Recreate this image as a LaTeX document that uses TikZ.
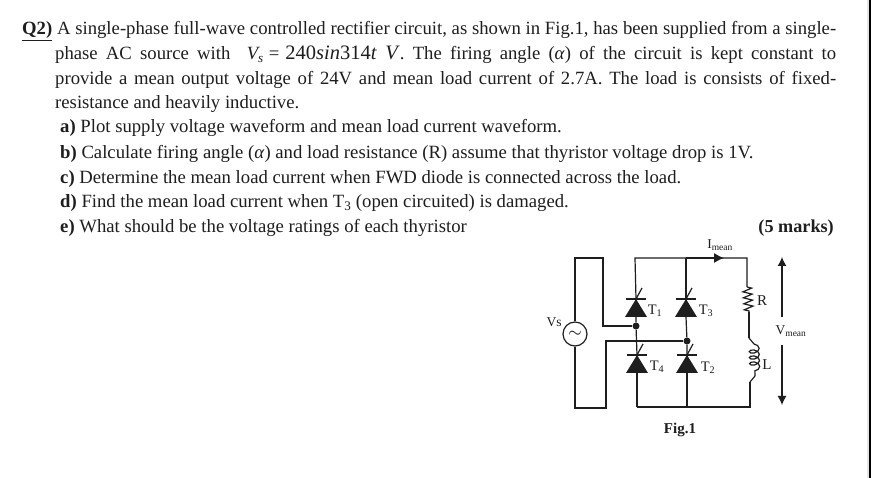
\documentclass[tikz,border=0pt]{standalone}
\definecolor{inkgray}{RGB}{30, 30, 30}
\usepackage{fontspec}
\setmainfont{Liberation Serif}
\usetikzlibrary{arrows.meta, calc, decorations.pathmorphing}

\begin{document}
\begin{tikzpicture}[
  x=1pt, y=-1pt,
  qline/.style={anchor=base west, inner sep=0pt, text=inkgray, font=\fontsize{18.7}{20}\selectfont},
  partbold/.style={qline, font=\fontsize{18.2}{20}\selectfont\bfseries},
  circlabel/.style={inner sep=0pt, text=inkgray, font=\fontsize{13.5}{14}\selectfont},
  thylabel/.style={circlabel, font=\fontsize{14.5}{15}\selectfont},
  wire/.style={draw=inkgray, line width=1.2pt},
  dotjoin/.style={circle, fill=inkgray, inner sep=0pt, minimum size=7pt}
]
  \useasboundingbox (0,0) rectangle (871,478);
  \fill[white] (0,0) rectangle (871,478);
  \fill[black!10] (867,0) rectangle (869,478);
  \fill[black] (869,0) rectangle (871,478);

  % Question text
  \node[qline] (line1) at (22,35) {\makebox[814pt][s]{\textbf{\underline{Q2)}} A single-phase full-wave controlled rectifier circuit, as shown in Fig.1, has been supplied from a single-}};
  \node[qline] (line2) at (55,60) {\makebox[781pt][s]{phase AC source with \ \textit{V\textsubscript{s}}\kern5pt=\kern6pt{\fontsize{20.5}{20}\selectfont 240\textit{sin}314\textit{t V}}. The firing angle (\textit{α}) of the circuit is kept constant to}};
  \node[qline] (line3) at (55,85) {\makebox[781pt][s]{provide a mean output voltage of 24V and mean load current of 2.7A. The load is consists of fixed-}};
  \node[qline] (line4) at (55,109) {resistance and heavily inductive.};

  % Parts
  \node[qline] (parta) at (60,133) {\textbf{a)} Plot supply voltage waveform and mean load current waveform.};
  \node[qline] (partb) at (60,159) {\textbf{b)} Calculate firing angle (\textit{α}) and load resistance (R) assume that thyristor voltage drop is 1V.};
  \node[qline] (partc) at (60,184) {\textbf{c)} Determine the mean load current when FWD diode is connected across the load.};
  \node[qline] (partd) at (60,208) {\textbf{d)} Find the mean load current when T\textsubscript{3} (open circuited) is damaged.};
  \node[qline] (parte) at (60,233) {\textbf{e)} What should be the voltage ratings of each thyristor};
  \node[partbold, anchor=base east] (marks) at (834,233) {(5 marks)};

  % Source and wire corners
  \node[circle, draw=inkgray, line width=1.2pt, minimum size=24pt, inner sep=0pt] (vs) at (575,334) {\fontsize{18}{18}\selectfont$\sim$};
  \coordinate (srctop) at (575,258);
  \coordinate (srcin) at (603,258);
  \coordinate (srcbot) at (575,408);
  \coordinate (retin) at (606,408);
  \coordinate (toprail) at (635,258);
  \coordinate (topmid) at (686,258);
  \coordinate (flow) at (724,258);
  \coordinate (topright) at (747,258);
  \coordinate (rtop) at (747,287);
  \coordinate (rbot) at (749,312);
  \coordinate (ltop) at (749,338);
  \coordinate (lbot) at (750,382);
  \coordinate (botright) at (750,407);
  \coordinate (botleft) at (637,407);
  \coordinate (botmid) at (687,407);
  \node[dotjoin] (joina) at (636,326) {};
  \node[dotjoin] (joinb) at (687,341) {};

  % Thyristors
  \foreach \thyname/\thyx/\thyy in {tone/636/299, tthree/686/299, tfour/637/355, ttwo/687/355} {
    \coordinate (\thyname k) at (\thyx,\thyy);
    \coordinate (\thyname a) at (\thyx,\thyy+18);
    \fill[inkgray] (\thyname k) -- ++(-11,18) -- ++(22,0) -- cycle;
    \draw[wire] ($(\thyname k)+(-10,0)$) -- ($(\thyname k)+(10,0)$);
    \draw[wire] (\thyname k) -- ++(6,-11);
  }

  % Wiring
  \draw[wire] (vs.north) -- (srctop) -- (srcin) |- (joina);
  \draw[wire] (vs.south) -- (srcbot) -- (retin) |- (joinb);
  \draw[wire] (tonek) -- (toprail) -- (topmid) -- (topright) -- (rtop);
  \draw[wire, -{Latex[length=10pt,width=10pt]}] (topmid) -- (flow);
  \draw[wire] (topmid) -- (tthreek);
  \draw[wire] (tonea) -- (joina) -- (tfourk);
  \draw[wire] (tthreea) -- (joinb) -- (ttwok);
  \draw[wire] (tfoura) -- (botleft);
  \draw[wire] (ttwoa) -- (botmid);
  \draw[wire] (botleft) -- (botmid) -- (botright) -- (lbot);
  \draw[wire, decorate, decoration={zigzag, amplitude=4.5pt, segment length=6pt}] (rtop) -- (rbot);
  \draw[wire] (rbot) -- (ltop);
  \draw[wire, decorate, decoration={coil, amplitude=5pt, segment length=6pt, aspect=0.6}] (ltop) ++(5,6) -- (755,376);
  \draw[wire] (ltop) -- ++(5,6);
  \draw[wire] (755,376) -- (lbot);

  % Mean voltage arrows
  \coordinate (vup) at (782,257);
  \coordinate (vupend) at (782,317);
  \coordinate (vdown) at (782,405);
  \coordinate (vdownend) at (782,345);
  \draw[wire, -{Latex[length=9pt,width=9pt]}] (vupend) -- (vup);
  \draw[wire, -{Latex[length=9pt,width=9pt]}] (vdownend) -- (vdown);

  % Labels
  \node[circlabel] (vslabel) at (554,322) {Vs};
  \node[circlabel] (imean) at (720,245) {I\textsubscript{mean}};
  \node[circlabel] (vmean) at (791,331) {V\textsubscript{mean}};
  \node[thylabel, font=\fontsize{15}{15}\selectfont] (rlabel) at (762,301) {R};
  \node[thylabel, font=\fontsize{15}{15}\selectfont] (llabel) at (767,365) {L};
  \node[thylabel] (tonelabel) at (655,311) {T\textsubscript{1}};
  \node[thylabel] (tthreelabel) at (706,311) {T\textsubscript{3}};
  \node[thylabel] (tfourlabel) at (657,367) {T\textsubscript{4}};
  \node[thylabel] (ttwolabel) at (708,368) {T\textsubscript{2}};
  \node[circlabel, font=\fontsize{15}{15}\selectfont\bfseries] (figlabel) at (680,430) {Fig.1};
\end{tikzpicture}
\end{document}
